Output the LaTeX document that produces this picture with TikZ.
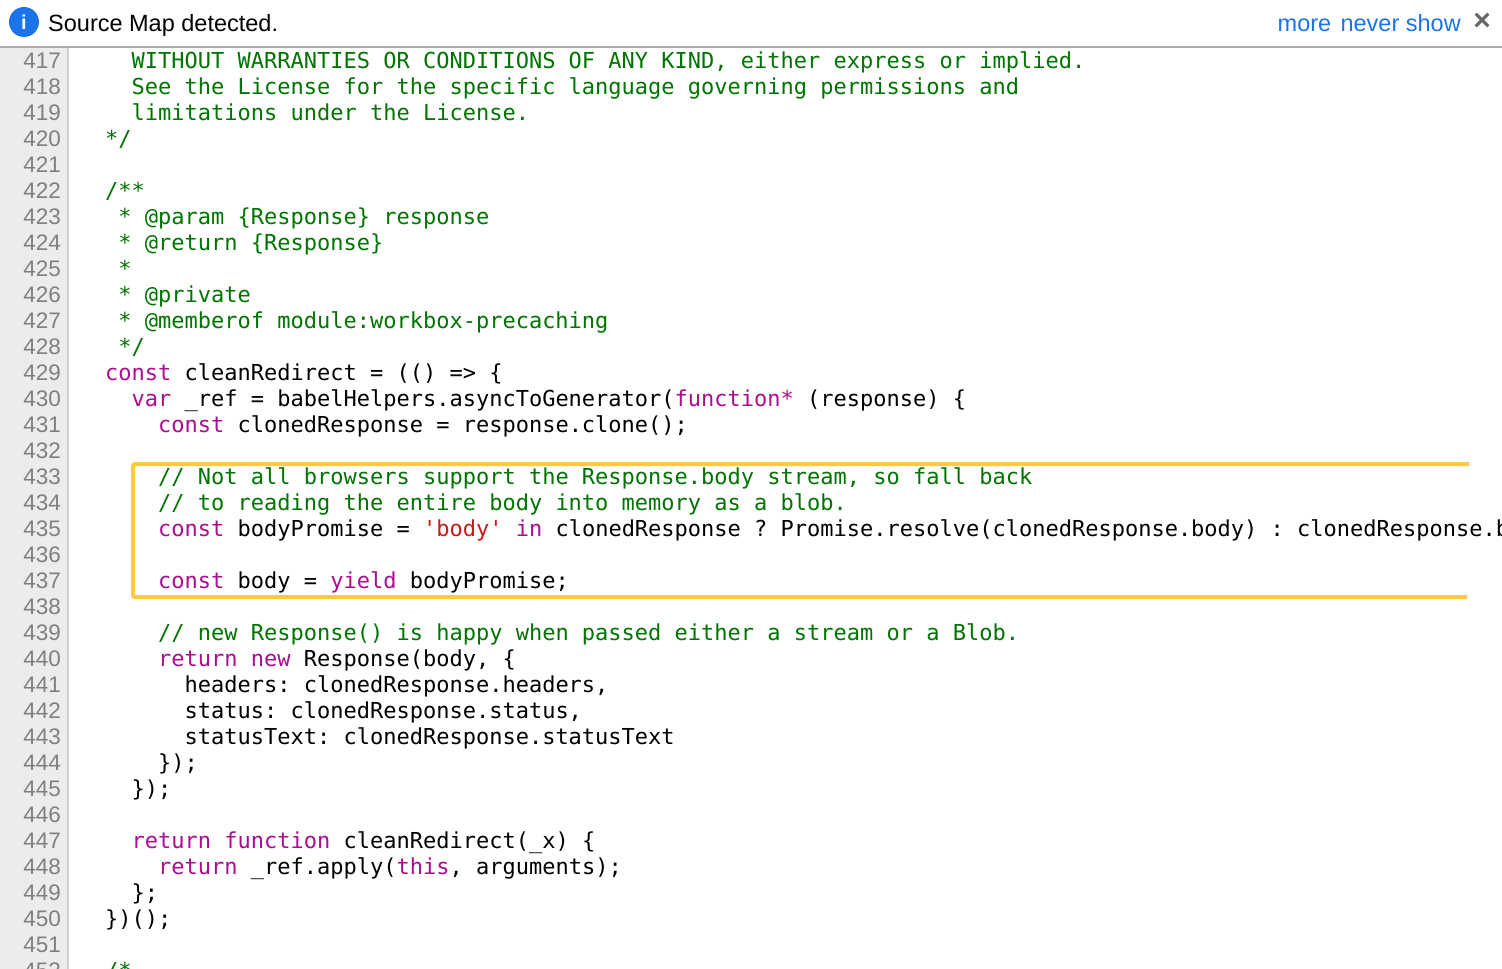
\documentclass[tikz,border=0pt]{standalone}
\usepackage{fontspec}
\setmainfont{Liberation Sans}
\newfontfamily\codef{DejaVu Sans Mono}
\frenchspacing
\definecolor{cmt}{RGB}{0,116,0}
\definecolor{kw}{RGB}{170,13,145}
\definecolor{str}{RGB}{196,26,22}
\definecolor{lnum}{RGB}{128,128,128}
\definecolor{gut}{RGB}{236,236,236}
\definecolor{hl}{RGB}{255,200,73}
\definecolor{infob}{RGB}{26,115,232}
\newcommand\K[1]{\textcolor{kw}{#1}}
\newcommand\G[1]{\textcolor{cmt}{#1}}
\newcommand\Sq[1]{\textcolor{str}{#1}}
\newcommand\cl[3]{\node[codeln] (c#1) at ({105+13.245*#2},{68+26*(#1-417)}) {#3};}
\begin{document}
\begin{tikzpicture}[x=1pt,y=-1pt,
  codeln/.style={anchor=base west,inner sep=0pt,font=\codef\frenchspacing\fontsize{22}{26}\selectfont,text=black},
  numln/.style={anchor=base east,inner sep=0pt,font=\fontsize{22.5}{26}\selectfont,text=lnum}]
\useasboundingbox (0,0) rectangle (1502,969);
\clip (0,0) rectangle (1502,969);
\fill[white] (0,0) rectangle (1502,969);
% top bar
\fill[infob] (24,22) circle (15);
\node[text=white,font=\bfseries\fontsize{20}{20}\selectfont] (ii) at (24,22) {i};
\node[anchor=base west,inner sep=0pt,font=\fontsize{23.5}{26}\selectfont] (smd) at (48,31) {Source Map detected.};
\node[anchor=base east,inner sep=0pt,font=\fontsize{23.5}{26}\selectfont,text=infob] (more) at (1461,31) {more\hspace{0.4em}never show};
\node[inner sep=0pt,font=\bfseries\fontsize{30}{30}\selectfont,text=black!60] (xx) at (1482,22) {×};
\draw[line width=2pt,color=black!33] (0,47) -- (1502,47);
% gutter
\fill[gut] (0,48) rectangle (68,969);
\draw[line width=1.5pt,color=black!18] (68,48) -- (68,969);
\foreach \n [count=\i from 0] in {417,...,452}
  \node[numln] (n\n) at ({61},{68+26*\i}) {\n};
% highlight
\draw[hl,line width=4pt,rounded corners=2pt] (1469,464) -- (133,464) -- (133,597) -- (1467,597);
% code
\cl{417}{2}{\G{WITHOUT WARRANTIES OR CONDITIONS OF ANY KIND, either express or implied.}}
\cl{418}{2}{\G{See the License for the specific language governing permissions and}}
\cl{419}{2}{\G{limitations under the License.}}
\cl{420}{0}{\G{*/}}
\cl{422}{0}{\G{/**}}
\cl{423}{1}{\G{* @param \{Response\} response}}
\cl{424}{1}{\G{* @return \{Response\}}}
\cl{425}{1}{\G{*}}
\cl{426}{1}{\G{* @private}}
\cl{427}{1}{\G{* @memberof module:workbox-precaching}}
\cl{428}{1}{\G{*/}}
\cl{429}{0}{\K{const} cleanRedirect = (() => \{}
\cl{430}{2}{\K{var} \_ref = babelHelpers.asyncToGenerator(\K{function*} (response) \{}
\cl{431}{4}{\K{const} clonedResponse = response.clone();}
\cl{433}{4}{\G{// Not all browsers support the Response.body stream, so fall back}}
\cl{434}{4}{\G{// to reading the entire body into memory as a blob.}}
\cl{435}{4}{\K{const} bodyPromise = \Sq{\textquotesingle body\textquotesingle} \K{in} clonedResponse ? Promise.resolve(clonedResponse.body) : clonedResponse.blob();}
\cl{437}{4}{\K{const} body = \K{yield} bodyPromise;}
\cl{439}{4}{\G{// new Response() is happy when passed either a stream or a Blob.}}
\cl{440}{4}{\K{return new} Response(body, \{}
\cl{441}{6}{headers: clonedResponse.headers,}
\cl{442}{6}{status: clonedResponse.status,}
\cl{443}{6}{statusText: clonedResponse.statusText}
\cl{444}{4}{\});}
\cl{445}{2}{\});}
\cl{447}{2}{\K{return function} cleanRedirect(\_x) \{}
\cl{448}{4}{\K{return} \_ref.apply(\K{this}, arguments);}
\cl{449}{2}{\};}
\cl{450}{0}{\})();}
\cl{452}{0}{\G{/*}}
\end{tikzpicture}
\end{document}
